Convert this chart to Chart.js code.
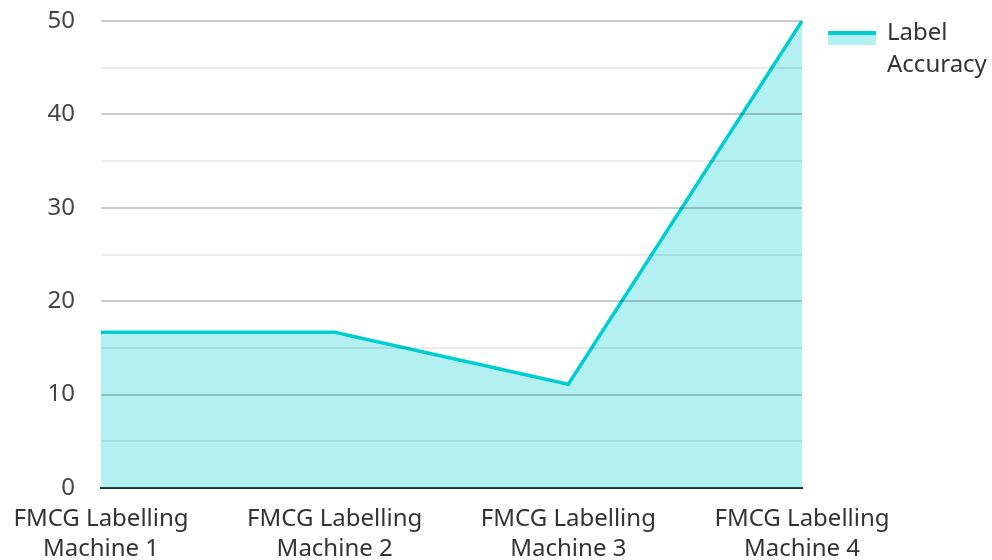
<!DOCTYPE html>
<html>
<head>
<meta charset="utf-8">
<script src="https://cdn.jsdelivr.net/npm/chart.js@4"></script>
<style>
  html, body { margin: 0; padding: 0; background: #fff; }
  #wrap { width: 992px; height: 560px; }
</style>
</head>
<body>
<div id="wrap"><canvas id="chartContainer" width="992" height="560"></canvas></div>
<script>
const categories = [
    ['FMCG Labelling', 'Machine 1'],
    ['FMCG Labelling', 'Machine 2'],
    ['FMCG Labelling', 'Machine 3'],
    ['FMCG Labelling', 'Machine 4']
];
const accuracy = [16.67, 16.67, 11.11, 50];
const seriesLabel = ['Label', 'Accuracy'];
const yTicks = [0, 10, 20, 30, 40, 50];

const lineColor = 'rgb(0, 206, 209)';
const fillColor = 'rgba(0, 206, 209, 0.3)';

// legend drawn by hand so the label can wrap on two lines
const sideLegend = {
    id: 'sideLegend',
    afterDraw(chart) {
        const ctx = chart.ctx;
        ctx.save();
        ctx.fillStyle = fillColor;
        ctx.fillRect(828, 33, 48, 12);
        ctx.strokeStyle = lineColor;
        ctx.lineWidth = 4;
        ctx.beginPath();
        ctx.moveTo(828, 33);
        ctx.lineTo(876, 33);
        ctx.stroke();
        ctx.fillStyle = '#333';
        ctx.font = '24px "Noto Sans"';
        ctx.textBaseline = 'middle';
        seriesLabel.forEach((t, i) => ctx.fillText(t, 887, 33 + i * 32));
        ctx.restore();
    }
};

const ctx = document.getElementById('chartContainer').getContext('2d');

let chart = new Chart(ctx, {
    type: 'line',
    data: {
        labels: categories,
        datasets: [{
            label: seriesLabel.join(' '),
            data: accuracy,
            borderColor: lineColor,
            backgroundColor: fillColor,
            borderWidth: 3.5,
            fill: 'origin',
            tension: 0,
            pointRadius: 0
        }]
    },
    options: {
        responsive: false,
        animation: false,
        layout: { padding: { top: 21, right: 190, left: 0, bottom: 0 } },
        plugins: {
            legend: { display: false },
            tooltip: { enabled: false }
        },
        scales: {
            x: {
                offset: false,
                grid: { display: false },
                border: { color: '#333', width: 2 },
                afterFit: s => { s.height = 72; },
                ticks: {
                    color: '#333',
                    padding: 8,
                    maxRotation: 0,
                    font: { family: 'Noto Sans', size: 24, lineHeight: 1.25 }
                }
            },
            y: {
                min: 0,
                max: 50,
                border: { display: false },
                afterFit: s => { s.width = 101; s.paddingTop = 0; s.paddingBottom = 0; },
                grid: {
                    z: 1,
                    drawTicks: false,
                    color: c => (c.tick && c.tick.value % 10 === 0) ? 'rgba(0,0,0,0.2)' : 'rgba(0,0,0,0.08)',
                    lineWidth: 2
                },
                ticks: {
                    stepSize: 5,
                    padding: 26,
                    color: '#444',
                    font: { family: 'Noto Sans', size: 24 },
                    callback: v => yTicks.includes(v) ? v : ''
                }
            }
        }
    },
    plugins: [sideLegend]
});
</script>
</body>
</html>
